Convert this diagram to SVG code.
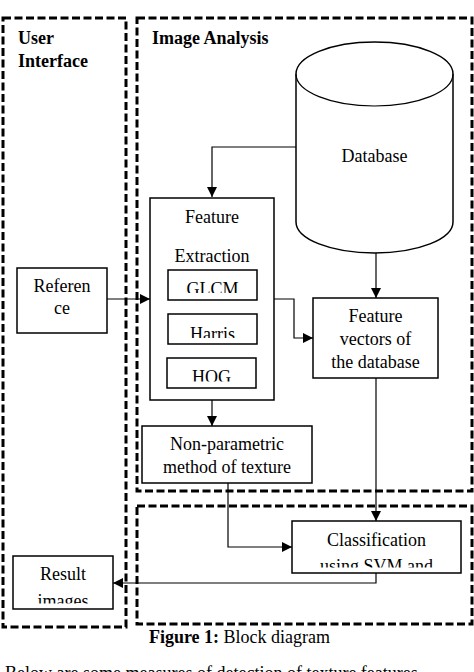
<svg xmlns="http://www.w3.org/2000/svg" width="474" height="672" viewBox="0 0 474 672">
<style>
text{font-family:"Liberation Serif","Times New Roman",serif;font-size:18px;fill:#000}
.b{font-weight:bold}
.m{text-anchor:middle}
.dash{fill:none;stroke:#000;stroke-width:3;stroke-dasharray:8 3.5}
.box{fill:#fff;stroke:#000;stroke-width:1.5}
.ln{fill:none;stroke:#000;stroke-width:1.2}
</style>
<defs>
<marker id="ah" viewBox="0 0 10 10" refX="10" refY="5" markerWidth="10" markerHeight="10" markerUnits="userSpaceOnUse" orient="auto">
<path d="M0,0L10,5L0,10z" fill="#000"/>
</marker>
<clipPath id="cg"><rect x="168" y="270" width="89" height="23"/></clipPath>
<clipPath id="ch"><rect x="168" y="314" width="89" height="24"/></clipPath>
<clipPath id="co"><rect x="167" y="358" width="89" height="23.5"/></clipPath>
<clipPath id="cc"><rect x="292" y="521" width="169" height="46.5"/></clipPath>
<clipPath id="cr"><rect x="13" y="556" width="100" height="47.5"/></clipPath>
</defs>
<g id="user-interface">
<rect class="dash" x="3" y="18" width="123" height="609"/>
<text class="b" x="18" y="44">User</text>
<text class="b" x="18" y="67">Interface</text>
</g>
<g id="image-analysis">
<rect class="dash" x="137" y="18" width="335" height="473"/>
<text class="b" x="152" y="44">Image Analysis</text>
</g>
<g id="classification-area">
<rect class="dash" x="137" y="506" width="335" height="118"/>
</g>
<g id="connectors">
<path class="ln" d="M296,147H212V197" marker-end="url(#ah)"/>
<path class="ln" d="M107,299H150" marker-end="url(#ah)"/>
<path class="ln" d="M274,299H294V338H313" marker-end="url(#ah)"/>
<path class="ln" d="M376,253V298" marker-end="url(#ah)"/>
<path class="ln" d="M212,400V426" marker-end="url(#ah)"/>
<path class="ln" d="M376,378V521" marker-end="url(#ah)"/>
<path class="ln" d="M228,483V547H292" marker-end="url(#ah)"/>
<path class="ln" d="M376,573V583H113" marker-end="url(#ah)"/>
</g>
<g id="database">
<path class="box" d="M296,74V222A78.5,31 0 0 0 453,222V74A78.5,32 0 0 0 296,74Z"/>
<path class="ln" d="M296,74A78.5,32 0 0 0 453,74" stroke-width="1.5"/>
<text class="m" x="374.5" y="162">Database</text>
</g>
<g id="feature-extraction">
<rect class="box" x="150" y="198" width="124" height="202"/>
<text class="m" x="212" y="223">Feature</text>
<text class="m" x="212" y="262">Extraction</text>
</g>
<g id="glcm">
<rect class="box" x="168" y="270" width="89" height="30"/>
<text class="m" x="212.5" y="295" clip-path="url(#cg)">GLCM</text>
</g>
<g id="harris">
<rect class="box" x="168" y="314" width="89" height="30"/>
<text class="m" x="212.5" y="340" clip-path="url(#ch)">Harris</text>
</g>
<g id="hog">
<rect class="box" x="167" y="358" width="89" height="30"/>
<text class="m" x="211.5" y="383" clip-path="url(#co)">HOG</text>
</g>
<g id="reference">
<rect class="box" x="17" y="268" width="90" height="65"/>
<text class="m" x="62" y="292">Referen</text>
<text class="m" x="62" y="314">ce</text>
</g>
<g id="feature-vectors">
<rect class="box" x="313" y="298" width="125" height="80"/>
<text class="m" x="375.5" y="322">Feature</text>
<text class="m" x="375.5" y="345">vectors of</text>
<text class="m" x="375.5" y="368">the database</text>
</g>
<g id="non-parametric">
<rect class="box" x="142" y="426" width="170" height="57"/>
<text class="m" x="227" y="450">Non-parametric</text>
<text class="m" x="227" y="473">method of texture</text>
</g>
<g id="classification">
<rect class="box" x="292" y="521" width="169" height="52"/>
<text class="m" x="376.5" y="546">Classification</text>
<text class="m" x="376.5" y="572" clip-path="url(#cc)">using SVM and</text>
</g>
<g id="result">
<rect class="box" x="13" y="556" width="100" height="53"/>
<text class="m" x="63" y="580">Result</text>
<text class="m" x="63" y="607" clip-path="url(#cr)">images</text>
</g>
<text x="239.5" y="643" class="m"><tspan class="b">Figure 1:</tspan> Block diagram</text>
<text x="5" y="679">Below are some measures of detection of texture features</text>
</svg>
